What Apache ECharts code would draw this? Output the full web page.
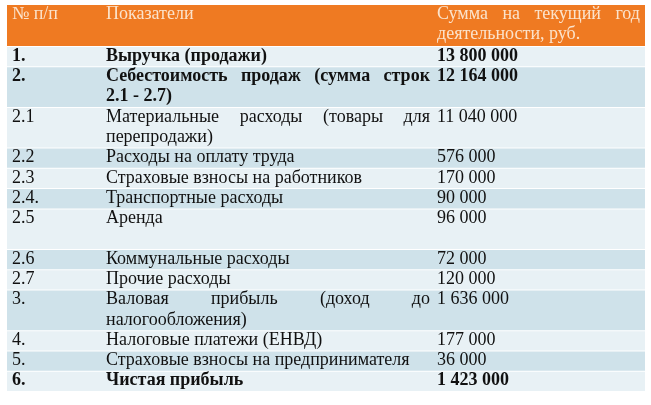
<!DOCTYPE html>
<html>
<head>
<meta charset="utf-8">
<script src="https://cdn.jsdelivr.net/npm/echarts@6/dist/echarts.min.js"></script>
<style>
  html, body { margin: 0; padding: 0; background: #fff; }
  #chart { width: 651px; height: 405px; }
</style>
</head>
<body>
<div id="chart"></div>
<script>
var headers = ['№ п/п', 'Показатели', ['Сумма на текущий год', 'деятельности, руб.']];
var rowNums = ['1.', '2.', '2.1', '2.2', '2.3', '2.4.', '2.5', '2.6', '2.7', '3.', '4.', '5.', '6.'];
var rowNames = [
  ['Выручка (продажи)'],
  ['Себестоимость продаж (сумма строк', '2.1 - 2.7)'],
  ['Материальные расходы (товары для', 'перепродажи)'],
  ['Расходы на оплату труда'],
  ['Страховые взносы на работников'],
  ['Транспортные расходы'],
  ['Аренда', ''],
  ['Коммунальные расходы'],
  ['Прочие расходы'],
  ['Валовая прибыль (доход до', 'налогообложения)'],
  ['Налоговые платежи (ЕНВД)'],
  ['Страховые взносы на предпринимателя'],
  ['Чистая прибыль']
];
var rowSums = ['13 800 000', '12 164 000', '11 040 000', '576 000', '170 000', '90 000', '96 000',
  '72 000', '120 000', '1 636 000', '177 000', '36 000', '1 423 000'];
var rowBold = [true, true, false, false, false, false, false, false, false, false, false, false, true];

var FONT = '"Liberation Serif", "DejaVu Serif", serif';
var SIZE = 18;
var LINE = 20.3;
var HEAD_TOP = 5, HEAD_H = 41;
var X0 = 7, X1 = 645, C2 = 106, C3 = 437, C2R = 430, C3R = 640;

var measureCtx = document.createElement('canvas').getContext('2d');
function textW(s, bold) {
  measureCtx.font = (bold ? 'bold ' : '') + SIZE + 'px ' + FONT;
  return measureCtx.measureText(s).width;
}

// cumulative row tops from line counts
var rowTops = [];
var acc = HEAD_TOP + HEAD_H;
rowNames.forEach(function (lines, i) {
  rowTops.push([acc, acc + lines.length * LINE]);
  acc += lines.length * LINE;
});

function txt(x, y, s, bold, color) {
  return {
    type: 'text', x: x, y: y,
    style: { text: s, fill: color, font: (bold ? 'bold ' : '') + SIZE + 'px ' + FONT, textVerticalAlign: 'top' }
  };
}

function lineEls(x, xr, y, s, bold, color, justify) {
  if (!justify) return [txt(x, y, s, bold, color)];
  var words = s.split(' ');
  var widths = words.map(function (w) { return textW(w, bold); });
  var sum = widths.reduce(function (a, b) { return a + b; }, 0);
  var gap = Math.max(3, (xr - x - sum) / (words.length - 1));
  var out = [], cx = x;
  words.forEach(function (w, k) {
    out.push(txt(cx, y, w, bold, color));
    cx += widths[k] + gap;
  });
  return out;
}

var chart = echarts.init(document.getElementById('chart'), null, { renderer: 'canvas' });

function renderRow(params, api) {
  var i = api.value(0);
  var p0 = api.coord([X0, rowTops[i][0]]);
  var p1 = api.coord([X1, rowTops[i][1]]);
  var children = [{
    type: 'rect',
    shape: { x: p0[0], y: p0[1] + 1, width: p1[0] - p0[0], height: p1[1] - p0[1] - 1 },
    style: { fill: i % 2 === 1 ? '#cfe2ea' : '#e8f1f5' }
  }];
  var col = '#111';
  var b = rowBold[i];
  var ty = p0[1] + 1;
  var xNum = api.coord([12, 0])[0], xName = api.coord([C2, 0])[0], xSum = api.coord([C3, 0])[0];
  var xNameR = api.coord([C2R, 0])[0];
  children.push(txt(xNum, ty, rowNums[i], b, col));
  rowNames[i].forEach(function (ln, k) {
    var justify = k < rowNames[i].length - 1 && rowNames[i][k + 1] !== '';
    children = children.concat(lineEls(xName, xNameR, ty + k * LINE, ln, b, col, justify));
  });
  children.push(txt(xSum, ty, rowSums[i], b, col));
  return { type: 'group', children: children };
}

function renderHead(params, api) {
  var p0 = api.coord([X0, HEAD_TOP]);
  var p1 = api.coord([X1, HEAD_TOP + HEAD_H]);
  var col = '#fbe3cc';
  var ty = p0[1];
  var children = [{
    type: 'rect',
    shape: { x: p0[0], y: p0[1], width: p1[0] - p0[0], height: p1[1] - p0[1] },
    style: { fill: '#ef7a22' }
  }];
  children.push(txt(api.coord([12, 0])[0], ty, headers[0], false, col));
  children.push(txt(api.coord([C2, 0])[0], ty, headers[1], false, col));
  children = children.concat(lineEls(api.coord([C3, 0])[0], api.coord([C3R, 0])[0], ty, headers[2][0], false, col, true));
  children.push(txt(api.coord([C3, 0])[0], ty + LINE, headers[2][1], false, col));
  return { type: 'group', children: children };
}

chart.setOption({
  animation: false,
  grid: { left: 0, right: 0, top: 0, bottom: 0 },
  xAxis: { type: 'value', min: 0, max: 651, show: false },
  yAxis: { type: 'value', min: 0, max: 405, inverse: true, show: false },
  series: [
    { type: 'custom', renderItem: renderHead, data: [[0]] },
    { type: 'custom', renderItem: renderRow, data: rowNums.map(function (n, i) { return [i]; }) }
  ]
});
</script>
</body>
</html>
